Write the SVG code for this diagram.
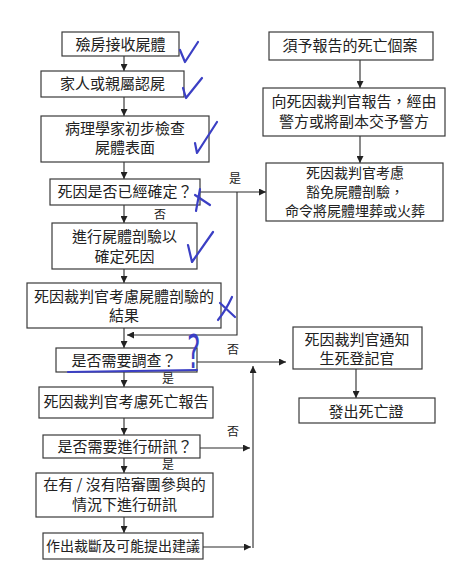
<svg xmlns="http://www.w3.org/2000/svg" width="474" height="576" viewBox="0 0 474 576">
<style>
.box{fill:#fff;stroke:#3a3a3a;stroke-width:1.2}
.t{font-family:"Noto Sans CJK TC","Noto Sans CJK SC",sans-serif;font-size:15px;fill:#222;text-anchor:middle}
.s{font-size:14px}
.lb{font-family:"Noto Sans CJK TC","Noto Sans CJK SC",sans-serif;font-size:12px;fill:#222;text-anchor:middle}
.ln{fill:none;stroke:#2a2a2a;stroke-width:1.1}
.pen{fill:none;stroke:#3b3fc4;stroke-width:2.2;stroke-linecap:round;stroke-linejoin:round}
</style>
<defs>
<marker id="ah" viewBox="0 0 10 10" refX="10" refY="5" markerWidth="7" markerHeight="7" markerUnits="userSpaceOnUse" orient="auto">
<path d="M0,0 L10,5 L0,10 z" fill="#222"/>
</marker>
</defs>
<rect width="474" height="576" fill="#fff"/>

<g id="connectors">
<path class="ln" d="M124,56 V71" marker-end="url(#ah)"/>
<path class="ln" d="M124,97 V116" marker-end="url(#ah)"/>
<path class="ln" d="M124,162 V179" marker-end="url(#ah)"/>
<path class="ln" d="M124,205 V223" marker-end="url(#ah)"/>
<path class="ln" d="M124,269 V283" marker-end="url(#ah)"/>
<path class="ln" d="M124,328 V348" marker-end="url(#ah)"/>
<path class="ln" d="M124,372 V387" marker-end="url(#ah)"/>
<path class="ln" d="M124,418 V435" marker-end="url(#ah)"/>
<path class="ln" d="M124,458 V473" marker-end="url(#ah)"/>
<path class="ln" d="M124,517 V533" marker-end="url(#ah)"/>
<path class="ln" d="M360,60 V88" marker-end="url(#ah)"/>
<path class="ln" d="M360,136 V163" marker-end="url(#ah)"/>
<path class="ln" d="M356,369 V398" marker-end="url(#ah)"/>
<path class="ln" d="M200,192 H266" marker-end="url(#ah)"/>
<path class="ln" d="M237,192 V335 H127" marker-end="url(#ah)"/>
<path class="ln" d="M197,362 H286" marker-end="url(#ah)"/>
<path class="ln" d="M253,548 V366" marker-end="url(#ah)"/>
<path class="ln" d="M200,448 H250" marker-end="url(#ah)"/>
<path class="ln" d="M203,547 H251" marker-end="url(#ah)"/>
<text class="lb" x="235" y="183">是</text>
<text class="lb" x="160" y="219">否</text>
<text class="lb" x="233" y="354">否</text>
<text class="lb" x="168" y="383">是</text>
<text class="lb" x="233" y="436">否</text>
<text class="lb" x="168" y="469">是</text>
</g>

<g id="n1"><rect class="box" x="62" y="32" width="117" height="24"/><text class="t" x="120.5" y="50">殮房接收屍體</text></g>
<g id="n2"><rect class="box" x="41" y="71" width="143" height="26"/><text class="t" x="112.5" y="89">家人或親屬認屍</text></g>
<g id="n3"><rect class="box" x="41" y="116" width="168" height="46"/><text class="t" x="125" y="134">病理學家初步檢查</text><text class="t" x="125" y="153">屍體表面</text></g>
<g id="n4"><rect class="box" x="50" y="179" width="150" height="26"/><text class="t" x="125" y="197">死因是否已經確定？</text></g>
<g id="n5"><rect class="box" x="52" y="223" width="145" height="46"/><text class="t" x="124.5" y="242">進行屍體剖驗以</text><text class="t" x="124.5" y="262">確定死因</text></g>
<g id="n6"><rect class="box" x="27" y="283" width="194" height="45"/><text class="t" x="124" y="302">死因裁判官考慮屍體剖驗的</text><text class="t" x="124" y="321">結果</text></g>
<g id="n7"><rect class="box" x="56" y="348" width="141" height="24"/><text class="t" x="124" y="366">是否需要調查？</text></g>
<g id="n8"><rect class="box" x="39" y="387" width="174" height="31"/><text class="t" x="126" y="407">死因裁判官考慮死亡報告</text></g>
<g id="n9"><rect class="box" x="43" y="435" width="157" height="23"/><text class="t" x="125" y="452">是否需要進行研訊？</text></g>
<g id="n10"><rect class="box" x="36" y="473" width="177" height="44"/><text class="t" x="124.5" y="490">在有 / 沒有陪審團參與的</text><text class="t" x="124.5" y="510">情況下進行研訊</text></g>
<g id="n11"><rect class="box" x="43" y="533" width="160" height="26"/><text class="t s" x="123" y="551">作出裁斷及可能提出建議</text></g>

<g id="r1"><rect class="box" x="269" y="32" width="164" height="28"/><text class="t" x="350" y="51">須予報告的死亡個案</text></g>
<g id="r2"><rect class="box" x="263" y="88" width="182" height="48"/><text class="t" x="354" y="107">向死因裁判官報告，經由</text><text class="t" x="354" y="127">警方或將副本交予警方</text></g>
<g id="r3"><rect class="box" x="266" y="163" width="177" height="58"/><text class="t s" x="355" y="178">死因裁判官考慮</text><text class="t s" x="355" y="197">豁免屍體剖驗，</text><text class="t s" x="355" y="216">命令將屍體埋葬或火葬</text></g>
<g id="r4"><rect class="box" x="293" y="327" width="129" height="42"/><text class="t" x="357" y="345">死因裁判官通知</text><text class="t" x="357" y="364">生死登記官</text></g>
<g id="r5"><rect class="box" x="299" y="398" width="136" height="25"/><text class="t" x="366" y="417">發出死亡證</text></g>

<g id="annotations">
<path class="pen" d="M180,50 L185,62 L198,42"/>
<path class="pen" d="M183,88 L186,98 L202,78"/>
<path class="pen" d="M195,143 L197,153 L217,122"/>
<path class="pen" d="M200,189 L196,211 M195,195 L210,205"/>
<path class="pen" d="M188,245 L192,262 L213,232"/>
<path class="pen" d="M232,297 Q226,310 218,320 M220,303 L235,317"/>
<path class="pen" d="M68,372 L197,370"/>
<text x="0" y="0" transform="translate(187,368) scale(0.55,1)" font-family="DejaVu Sans" font-size="46" fill="#3b3fc4">?</text>
</g>
</svg>
